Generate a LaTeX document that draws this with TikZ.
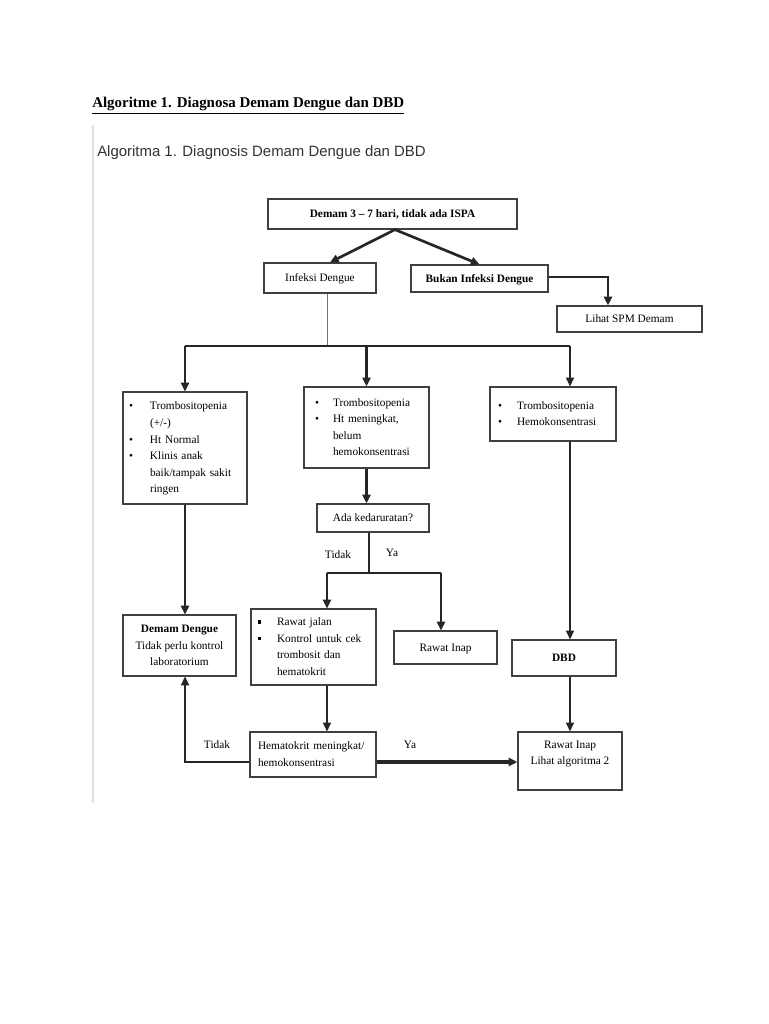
\documentclass[tikz,border=0pt]{standalone}
\usepackage{fontspec}
\setmainfont{Liberation Serif}
\newfontfamily\arialfam{Liberation Sans}
\usetikzlibrary{arrows.meta,calc}
\newcommand\bl[3]{\begin{tabular}{@{\hspace{#1}}p{\dimexpr#2-#1\relax}@{}l@{}}#3\end{tabular}}
\newcommand\sqb{\raisebox{1.4pt}{\rule{2.6pt}{2.6pt}}}
\begin{document}
\begin{tikzpicture}[x=0.75pt,y=-0.75pt,
  box/.style={draw=black!75,line width=0.9pt,fill=white,inner sep=0pt,font=\fontsize{8.5}{12.4}\selectfont},
  one/.style={box,text height=6pt,text depth=0.5pt},
  boxm/.style={box,align=center},
  sz/.style 2 args={minimum width=#1*0.75pt,minimum height=#2*0.75pt},
  lbl/.style={inner sep=0pt,font=\fontsize{8.5}{12.4}\selectfont},
  bx/.style={font=\fontsize{8.5}{12.4}\selectfont\bfseries},
  lwa/.style={line width=0.8pt,draw=black!85},
  lwb/.style={line width=1.3pt,draw=black!85},
  lwc/.style={line width=2pt,draw=black!85},
  lwd/.style={line width=2.4pt,draw=black!85},
  ar/.style={-{Triangle[length=6.5pt,width=6pt]}}]
\fill[white] (0,0) rectangle (768,1024);
\useasboundingbox (0,0) rectangle (768,1024);
% titles
\node[anchor=base west,inner sep=0pt,font=\fontsize{11.2}{13}\selectfont\bfseries] (t1) at (92,108) {\underline{Algoritme 1. Diagnosa Demam Dengue dan DBD}};
\coordinate (bt) at (93,125);
\coordinate (bb) at (93,803);
\draw[line width=1.1pt,black!12] (bt) -- (bb);
\node[anchor=base west,inner sep=0pt,font=\arialfam\fontsize{11.2}{13}\selectfont,text=black!80] (t2) at (97,156) {Algoritma 1. Diagnosis Demam Dengue dan DBD};
% boxes
\node[one,bx,sz={249}{30}] (top) at (392.5,214) {Demam 3 – 7 hari, tidak ada ISPA};
\node[one,sz={112}{30}] (inf) at (320,278) {Infeksi Dengue};
\node[one,bx,sz={137}{27}] (bukan) at (479.5,278.5) {Bukan Infeksi Dengue};
\node[one,sz={145}{26}] (lihat) at (629.5,319) {Lihat SPM Demam};
\node[box,sz={124}{112},text width=93pt,align=left] (left) at (185,448) {\noindent\bl{4.5pt}{20.25pt}{\textbullet & Trombositopenia\\ & (+/-)\\ \textbullet & Ht Normal\\ \textbullet & Klinis anak\\ & baik/tampak sakit\\ & ringen}};
\node[box,sz={125}{81},text width=93.75pt,align=left] (mid) at (366.5,427.5) {\noindent\bl{8.25pt}{21.75pt}{\textbullet & Trombositopenia\\ \textbullet & Ht meningkat,\\ & belum\\ & hemokonsentrasi}};
\node[box,sz={126}{54},text width=94.5pt,align=left] (right) at (553,414) {\noindent\bl{6pt}{20.25pt}{\textbullet & Trombositopenia\\ \textbullet & Hemokonsentrasi}};
\node[one,sz={112}{28}] (ada) at (373,518) {Ada kedaruratan?};
\node[box,sz={125}{76},text width=93.75pt,align=left] (rj) at (313.5,647) {\noindent\bl{5.25pt}{19.5pt}{\sqb & Rawat jalan\\ \sqb & Kontrol untuk cek\\ & trombosit dan\\ & hematokrit}};
\node[one,sz={103}{33}] (ri) at (445.5,647.5) {Rawat Inap};
\node[boxm,sz={113}{61}] (dd) at (179.5,645.5) {\textbf{Demam Dengue}\\Tidak perlu kontrol\\laboratorium};
\node[one,bx,sz={104}{36}] (dbd) at (564,658) {DBD};
\node[boxm,sz={104}{58}] (fin) at (570,761) {Rawat Inap\\Lihat algoritma 2\\\mbox{}};
\node[box,sz={126}{45},text width=94.5pt,align=left] (hem) at (313,754.5) {\noindent\begin{tabular}{@{\hspace{6pt}}l@{}}Hematokrit meningkat/\\hemokonsentrasi\end{tabular}};
% connectors
\draw[lwc,ar] ($(top.south)+(2.5,0)$) -- ($(inf.north)+(10,0)$);
\draw[lwc,ar] ($(top.south)+(2.5,0)$) -- (bukan.north);
\coordinate (lin) at ($(lihat.north)+(-21.5,0)$);
\draw[lwc,ar] ($(bukan.east)+(0,-1.5)$) -| (lin);
\coordinate (j1) at (327,346);
\coordinate (rin) at ($(right.north)+(17,0)$);
\draw[line width=0.6pt,black!55] ($(inf.south)+(7,0)$) -- (j1);
\draw[lwb] (left.north |- j1) -- (rin |- j1);
\draw[lwb,ar] (left.north |- j1) -- (left.north);
\draw[lwc,ar] (mid.north |- j1) -- (mid.north);
\draw[lwa,ar] (rin |- j1) -- (rin);
\draw[lwc,ar] (mid.south) -- (mid.south |- ada.north);
\coordinate (j2) at (369,573);
\draw[lwc] (j2 |- ada.south) -- (j2);
\coordinate (rjin) at ($(rj.north)+(13.5,0)$);
\coordinate (riin) at ($(ri.north)+(-4.5,0)$);
\draw[lwb] (rjin |- j2) -- (riin |- j2);
\draw[lwb,ar] (rjin |- j2) -- (rjin);
\draw[lwb,ar] (riin |- j2) -- (riin);
\draw[lwb,ar] (left.south) -- (left.south |- dd.north);
\coordinate (dbdin) at (rin |- dbd.north);
\draw[lwa,ar] (rin |- right.south) -- (dbdin);
\draw[lwa,ar] (dbdin |- dbd.south) -- (dbdin |- fin.north);
\draw[lwa,ar] (rjin |- rj.south) -- (rjin |- hem.north);
\coordinate (hy) at ($(hem.east)+(0,7.5)$);
\draw[lwd,ar] (hy) -- (hy -| fin.west);
\coordinate (hw) at ($(hem.west)+(0,7.5)$);
\draw[lwb,ar] (hw) -| (left.south |- dd.south);
% labels
\node[lbl] (tidak1) at (338,555) {Tidak};
\node[lbl] (ya1) at (392,553) {Ya};
\node[lbl] (tidak2) at (217,745) {Tidak};
\node[lbl] (ya2) at (410,745) {Ya};
\end{tikzpicture}
\end{document}
